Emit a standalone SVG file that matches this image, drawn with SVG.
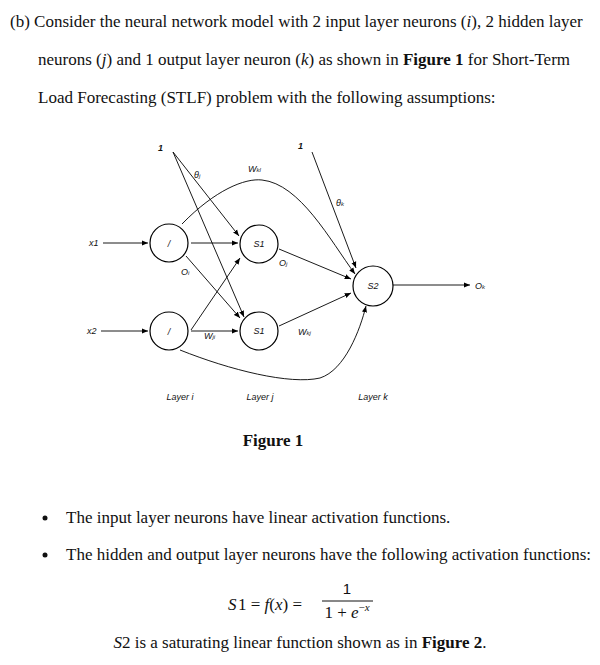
<svg xmlns="http://www.w3.org/2000/svg" width="600" height="665" viewBox="0 0 600 665">
<defs><marker id="ah" viewBox="0 0 10 10" refX="10" refY="5" markerWidth="7" markerHeight="7" orient="auto"><path d="M0,1 L10,5 L0,9 z" fill="#000"/></marker></defs>
<style>
.t{font-family:"Liberation Serif",serif;font-size:17px;fill:#111}
.s{font-family:"Liberation Sans",sans-serif;font-size:9px;font-style:italic;fill:#111}
.b{font-weight:bold}
.n{fill:#fff;stroke:#000;stroke-width:1.2}
.c{fill:none;stroke:#000;stroke-width:0.9;marker-end:url(#ah)}
</style>
<rect width="600" height="665" fill="#fff"/>
<text class="t" x="10" y="27">(b) Consider the neural network model with 2 input layer neurons (<tspan font-style="italic">i</tspan>), 2 hidden layer</text>
<text class="t" x="38" y="65">neurons (<tspan font-style="italic">j</tspan>) and 1 output layer neuron (<tspan font-style="italic">k</tspan>) as shown in <tspan class="b">Figure 1</tspan> for Short-Term</text>
<text class="t" x="38" y="103">Load Forecasting (STLF) problem with the following assumptions:</text>
<g id="connectors">
<line class="c" x1="103" y1="243" x2="148" y2="243"/>
<line class="c" x1="101" y1="331" x2="148" y2="331"/>
<line class="c" x1="191" y1="243" x2="238" y2="243"/>
<line class="c" x1="191" y1="331" x2="238" y2="331"/>
<line class="c" x1="186" y1="256" x2="240" y2="318"/>
<line class="c" x1="191" y1="330" x2="240" y2="258"/>
<line class="c" x1="173" y1="152" x2="239" y2="236"/>
<line class="c" x1="173" y1="152" x2="244" y2="317"/>
<line class="c" x1="312" y1="152" x2="356" y2="268"/>
<line class="c" x1="279" y1="249" x2="351" y2="279"/>
<line class="c" x1="279" y1="326" x2="351" y2="293"/>
<path class="c" d="M182,224 C215,190 245,178 262,180 C300,184 330,240 355,274"/>
<path class="c" d="M180,350 C230,370 290,385 320,378 C345,370 360,330 366,306"/>
<line class="c" x1="393" y1="285" x2="470" y2="285"/>
</g>
<g id="n_x1"><circle class="n" cx="169" cy="243" r="19"/><text class="s" x="169" y="247" text-anchor="middle" font-size="11">/</text></g>
<g id="n_x2"><circle class="n" cx="169" cy="331" r="19"/><text class="s" x="169" y="335" text-anchor="middle" font-size="11">/</text></g>
<g id="n_s1a"><circle class="n" cx="259" cy="244" r="19"/><text class="s" x="259" y="247" text-anchor="middle">S1</text></g>
<g id="n_s1b"><circle class="n" cx="259" cy="331" r="19"/><text class="s" x="259" y="334" text-anchor="middle">S1</text></g>
<g id="n_s2"><circle class="n" cx="373" cy="286" r="20"/><text class="s" x="373" y="289" text-anchor="middle">S2</text></g>
<g id="labels">
<text class="s" x="158" y="151" font-style="normal" font-weight="bold">1</text>
<text class="s" x="298" y="149" font-style="normal" font-weight="bold">1</text>
<text class="s" x="89" y="246">x1</text>
<text class="s" x="87" y="334">x2</text>
<text class="s" x="475" y="289">O<tspan font-size="6">k</tspan></text>
<text class="s" x="194" y="178">θ<tspan font-size="6">j</tspan></text>
<text class="s" x="248" y="172">W<tspan font-size="6">kl</tspan></text>
<text class="s" x="336" y="206">θ<tspan font-size="6">k</tspan></text>
<text class="s" x="181" y="275">O<tspan font-size="6">i</tspan></text>
<text class="s" x="279" y="266">O<tspan font-size="6">j</tspan></text>
<text class="s" x="204" y="339">W<tspan font-size="6">ji</tspan></text>
<text class="s" x="298" y="335">W<tspan font-size="6">kj</tspan></text>
<text class="s" x="180" y="400" text-anchor="middle">Layer i</text>
<text class="s" x="260" y="400" text-anchor="middle">Layer j</text>
<text class="s" x="373" y="400" text-anchor="middle">Layer k</text>
</g>
<text class="t b" x="273" y="446" text-anchor="middle">Figure 1</text>
<circle cx="45" cy="518" r="2.5" fill="#111"/>
<circle cx="45" cy="555" r="2.5" fill="#111"/>
<text class="t" x="66" y="523">The input layer neurons have linear activation functions.</text>
<text class="t" x="66" y="560">The hidden and output layer neurons have the following activation functions:</text>
<text class="t" x="228" y="610" font-style="italic">S</text>
<text class="t" x="238" y="610">1 = <tspan font-style="italic">f</tspan>(<tspan font-style="italic">x</tspan>) =</text>
<text class="t" x="347" y="594" text-anchor="middle" style="font-family:'Liberation Sans',sans-serif;font-size:15px">1</text>
<line x1="322" y1="601" x2="373" y2="601" stroke="#111" stroke-width="1"/>
<text class="t" x="347" y="618" text-anchor="middle">1 + <tspan font-style="italic">e</tspan><tspan font-size="11" dy="-7">−<tspan font-style="italic">x</tspan></tspan></text>
<text class="t" x="300" y="648" text-anchor="middle"><tspan font-style="italic">S</tspan>2 is a saturating linear function shown as in <tspan class="b">Figure 2</tspan>.</text>
</svg>
